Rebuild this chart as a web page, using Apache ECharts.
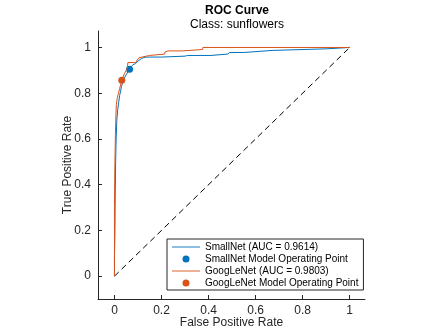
<!DOCTYPE html>
<html>
<head>
<meta charset="utf-8">
<script src="https://cdn.jsdelivr.net/npm/echarts@6/dist/echarts.min.js"></script>
<style>
html,body{margin:0;padding:0;background:#fff;}
#c{width:448px;height:336px;}
</style>
</head>
<body>
<div id="c"></div>
<script>
// ---- data ----
const smallNetFPR = [0,0,0.002,0.003,0.005,0.007,0.010,0.014,0.018,0.022,0.026,0.030,0.036,0.044,0.052,0.064,0.070,0.078,0.090,0.100,0.106,0.115,0.125,0.135,0.200,0.206,0.300,0.310,0.410,0.415,0.480,0.490,0.550,0.555,0.670,0.675,0.900,1];
const smallNetTPR = [0,0.08,0.20,0.35,0.50,0.60,0.68,0.73,0.76,0.79,0.81,0.83,0.85,0.87,0.885,0.905,0.915,0.924,0.930,0.940,0.946,0.952,0.956,0.958,0.958,0.962,0.962,0.965,0.965,0.971,0.971,0.978,0.978,0.985,0.987,0.994,0.994,1];
const googLeNetFPR = [0,0,0.002,0.004,0.006,0.008,0.012,0.017,0.022,0.027,0.031,0.036,0.042,0.050,0.055,0.057,0.090,0.097,0.104,0.112,0.149,0.150,0.213,0.215,0.227,0.290,0.291,0.375,0.376,1];
const googLeNetTPR = [0,0.30,0.50,0.62,0.70,0.75,0.78,0.80,0.82,0.84,0.857,0.87,0.885,0.90,0.91,0.934,0.934,0.945,0.955,0.960,0.965,0.971,0.971,0.980,0.985,0.985,0.991,0.991,1,1];
const smallNetOpPoint = [0.064, 0.905];
const googLeNetOpPoint = [0.031, 0.857];
const chanceFPR = [0, 1];
const chanceTPR = [0, 1];
const xTicks = [0, 0.2, 0.4, 0.6, 0.8, 1];
const yTicks = [0, 0.2, 0.4, 0.6, 0.8, 1];
const seriesNames = ['SmallNet (AUC = 0.9614)', 'SmallNet Model Operating Point', 'GoogLeNet (AUC = 0.9803)', 'GoogLeNet Model Operating Point'];

const zip = (a, b) => a.map((v, i) => [v, b[i]]);
const FONT = "'Liberation Sans', Arial, Helvetica, sans-serif";
const AX = '#262626';
const BLUE = '#0072BD';
const ORANGE = '#D95319';
const LINE_ICON = 'path://M0,0h40v1.3h-40z';

const chart = echarts.init(document.getElementById('c'), null, {renderer: 'canvas'});
chart.setOption({
  animation: false,
  backgroundColor: '#ffffff',
  textStyle: {fontFamily: FONT},
  title: [
    {text: 'ROC Curve', left: 232, top: 0, textAlign: 'center',
     textStyle: {fontFamily: FONT, fontSize: 12, fontWeight: 'bold', color: '#000'}},
    {text: 'Class: sunflowers', left: 232, top: 14, textAlign: 'center',
     textStyle: {fontFamily: FONT, fontSize: 12, fontWeight: 'normal', color: '#000'}}
  ],
  grid: {left: 98, top: 31, width: 267, height: 268, containLabel: false},
  xAxis: {
    type: 'value', min: -0.07, max: 1.065,
    name: 'False Positive Rate', nameLocation: 'middle', nameGap: 18, nameMoveOverlap: false,
    nameTextStyle: {fontFamily: FONT, fontSize: 12, color: AX},
    axisLine: {show: true, onZero: false, lineStyle: {color: AX, width: 1}},
    axisTick: {show: true, inside: true, length: 4, customValues: xTicks, lineStyle: {color: AX}},
    axisLabel: {customValues: xTicks, fontFamily: FONT, fontSize: 12, color: AX, margin: 6},
    splitLine: {show: false}
  },
  yAxis: {
    type: 'value', min: -0.1, max: 1.072,
    name: 'True Positive Rate', nameLocation: 'middle', nameGap: 24, nameMoveOverlap: false,
    nameTextStyle: {fontFamily: FONT, fontSize: 12, color: AX},
    axisLine: {show: true, onZero: false, lineStyle: {color: AX, width: 1}},
    axisTick: {show: true, inside: true, length: 4, customValues: yTicks, lineStyle: {color: AX}},
    axisLabel: {customValues: yTicks, fontFamily: FONT, fontSize: 12, color: AX, margin: 7},
    splitLine: {show: false}
  },
  legend: {
    data: [
      {name: seriesNames[0], icon: LINE_ICON},
      {name: seriesNames[1], icon: 'circle'},
      {name: seriesNames[2], icon: LINE_ICON},
      {name: seriesNames[3], icon: 'circle'}
    ],
    orient: 'vertical',
    left: 167, top: 239,
    padding: [2, 5, 1, 5],
    itemGap: 0,
    itemWidth: 28, itemHeight: 7,
    backgroundColor: '#ffffff',
    borderColor: AX, borderWidth: 1, borderRadius: 0,
    textStyle: {fontFamily: FONT, fontSize: 10, lineHeight: 12, height: 12, color: '#000'},
    selectedMode: false
  },
  series: [
    {name: 'chance', type: 'line', data: zip(chanceFPR, chanceTPR), symbol: 'none',
     lineStyle: {color: '#000', width: 1, type: [6, 4]}, z: 1, silent: true},
    {name: seriesNames[0], type: 'line', data: zip(smallNetFPR, smallNetTPR), symbol: 'none',
     lineStyle: {color: BLUE, width: 1}, itemStyle: {color: BLUE}, z: 2},
    {name: seriesNames[1], type: 'scatter', data: [smallNetOpPoint], symbol: 'circle', symbolSize: 7,
     itemStyle: {color: BLUE, opacity: 1}, z: 3},
    {name: seriesNames[2], type: 'line', data: zip(googLeNetFPR, googLeNetTPR), symbol: 'none',
     lineStyle: {color: ORANGE, width: 1}, itemStyle: {color: ORANGE}, z: 4},
    {name: seriesNames[3], type: 'scatter', data: [googLeNetOpPoint], symbol: 'circle', symbolSize: 7,
     itemStyle: {color: ORANGE, opacity: 1}, z: 5}
  ]
});
</script>
</body>
</html>
